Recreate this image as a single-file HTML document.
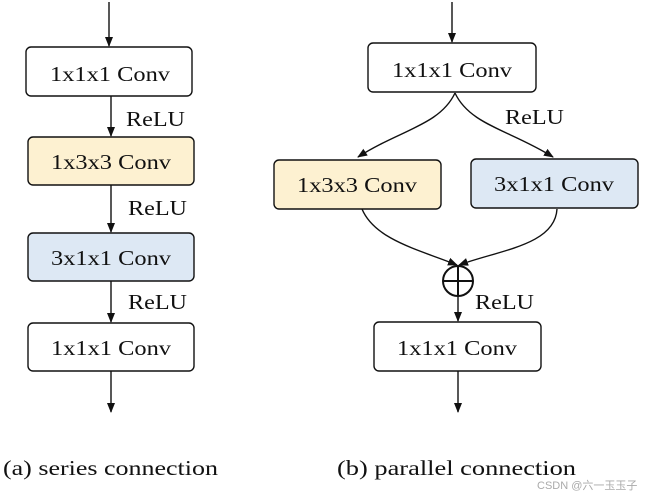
<!DOCTYPE html>
<html><head><meta charset="utf-8"><style>
html,body{margin:0;padding:0;background:#fff;}
svg{display:block;}
text{font-family:"Liberation Serif",serif;fill:#111;}
</style></head><body>
<svg width="645" height="495" viewBox="0 0 645 495" xmlns="http://www.w3.org/2000/svg">
<defs>
<marker id="a" markerWidth="10" markerHeight="10" refX="9" refY="5" orient="auto" markerUnits="userSpaceOnUse">
<path d="M0,1 L10,5 L0,9 Z" fill="#111"/></marker>
</defs>
<g stroke="#111" stroke-width="1.4" fill="none">
<line x1="109" y1="2" x2="109" y2="46" marker-end="url(#a)"/>
<line x1="111" y1="96" x2="111" y2="136" marker-end="url(#a)"/>
<line x1="111" y1="185" x2="111" y2="232" marker-end="url(#a)"/>
<line x1="111" y1="281" x2="111" y2="322" marker-end="url(#a)"/>
<line x1="111" y1="371" x2="111" y2="412" marker-end="url(#a)"/>
<line x1="452" y1="2" x2="452" y2="42" marker-end="url(#a)"/>
<path d="M455,93 C440,125 400,130 358,157" marker-end="url(#a)"/>
<path d="M455,93 C470,125 510,130 553,157" marker-end="url(#a)"/>
<path d="M362,209 C375,240 420,250 457,265" marker-end="url(#a)"/>
<path d="M557,209 C555,245 500,250 459,265" marker-end="url(#a)"/>
<line x1="458" y1="296" x2="458" y2="321" marker-end="url(#a)"/>
<line x1="458" y1="371" x2="458" y2="412" marker-end="url(#a)"/>
</g>
<g stroke="#111" stroke-width="1.4">
<rect x="26" y="47" width="166" height="49" rx="5" fill="#fff"/>
<rect x="28" y="137" width="166" height="48" rx="5" fill="#fdf1d1"/>
<rect x="28" y="233" width="166" height="48" rx="5" fill="#dde8f4"/>
<rect x="28" y="323" width="166" height="48" rx="5" fill="#fff"/>
<rect x="368" y="43" width="168" height="49" rx="5" fill="#fff"/>
<rect x="274" y="160" width="167" height="49" rx="5" fill="#fdf1d1"/>
<rect x="471" y="159" width="167" height="49" rx="5" fill="#dde8f4"/>
<rect x="374" y="322" width="167" height="49" rx="5" fill="#fff"/>
<circle cx="458" cy="281" r="15" fill="#fff" stroke-width="2"/>
<line x1="444" y1="281" x2="472" y2="281" stroke-width="2"/>
<line x1="458" y1="267" x2="458" y2="295" stroke-width="2"/>
</g>
<g font-size="21" text-anchor="middle">
<text x="110" y="81" textLength="120" lengthAdjust="spacingAndGlyphs">1x1x1 Conv</text>
<text x="111" y="169" textLength="120" lengthAdjust="spacingAndGlyphs">1x3x3 Conv</text>
<text x="111" y="265" textLength="120" lengthAdjust="spacingAndGlyphs">3x1x1 Conv</text>
<text x="111" y="355" textLength="120" lengthAdjust="spacingAndGlyphs">1x1x1 Conv</text>
<text x="452" y="77" textLength="120" lengthAdjust="spacingAndGlyphs">1x1x1 Conv</text>
<text x="357" y="192" textLength="120" lengthAdjust="spacingAndGlyphs">1x3x3 Conv</text>
<text x="554" y="191" textLength="120" lengthAdjust="spacingAndGlyphs">3x1x1 Conv</text>
<text x="457" y="355" textLength="120" lengthAdjust="spacingAndGlyphs">1x1x1 Conv</text>
</g>
<g font-size="21">
<text x="126" y="126" textLength="59" lengthAdjust="spacingAndGlyphs">ReLU</text>
<text x="128" y="215" textLength="59" lengthAdjust="spacingAndGlyphs">ReLU</text>
<text x="128" y="309" textLength="59" lengthAdjust="spacingAndGlyphs">ReLU</text>
<text x="505" y="124" textLength="59" lengthAdjust="spacingAndGlyphs">ReLU</text>
<text x="475" y="309" textLength="59" lengthAdjust="spacingAndGlyphs">ReLU</text>
<text x="3" y="475" textLength="215" lengthAdjust="spacingAndGlyphs">(a)  series connection</text>
<text x="337" y="475" textLength="239" lengthAdjust="spacingAndGlyphs">(b)  parallel connection</text>
</g>
<text x="537" y="489" font-size="11" style="font-family:'Liberation Sans','Noto Sans CJK SC',sans-serif;fill:#aaa">CSDN @六一玉玉子</text>
</svg>
</body></html>
